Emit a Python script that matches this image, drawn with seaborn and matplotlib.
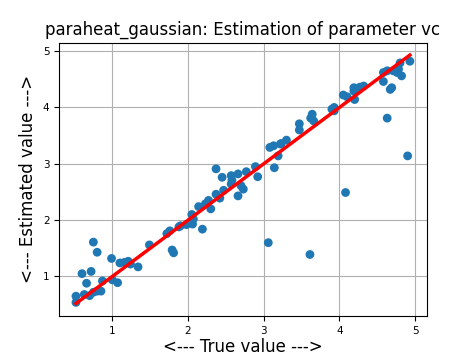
import matplotlib
matplotlib.use("Agg")
import matplotlib.pyplot as plt
import seaborn as sns
import numpy as np
import pandas as pd

true_vals = [0.52, 0.52, 0.60, 0.66, 0.72, 0.75, 0.80, 0.63, 0.70, 0.75, 0.80, 0.85,
             0.87, 0.99, 1.00, 1.07, 1.10, 1.16, 1.21, 1.24, 1.34, 1.49, 1.72, 1.76,
             1.79, 1.81, 1.90, 1.98, 1.88, 2.05, 2.07, 2.06, 2.19, 2.14, 2.23, 2.27,
             2.30, 2.37, 2.42, 2.47, 2.37, 2.45, 2.57, 2.58, 2.57, 2.66, 2.70, 2.73,
             2.66, 2.77, 2.89, 2.92, 3.08, 3.13, 3.14, 3.22, 3.19, 3.06, 3.61, 4.08,
             4.90, 4.63, 3.23, 3.30, 3.47, 3.47, 3.64, 3.62, 3.66, 3.90, 3.93, 3.93,
             4.05, 4.10, 4.19, 4.20, 4.27, 4.32, 4.19, 4.58, 4.63, 4.58, 4.67, 4.69,
             4.71, 4.78, 4.76, 4.80, 4.82, 4.93]
est_vals = [0.54, 0.65, 1.05, 0.88, 1.09, 1.61, 1.43, 0.68, 0.66, 0.72, 0.74, 0.74,
            0.92, 1.32, 0.94, 0.89, 1.24, 1.25, 1.27, 1.22, 1.17, 1.56, 1.76, 1.81,
            1.47, 1.42, 1.90, 1.92, 1.88, 2.10, 2.02, 1.93, 1.84, 2.24, 2.29, 2.35,
            2.20, 2.46, 2.39, 2.53, 2.91, 2.76, 2.79, 2.71, 2.64, 2.82, 2.61, 2.55,
            2.43, 2.86, 2.95, 2.77, 3.29, 3.32, 2.93, 3.35, 3.14, 1.60, 1.39, 2.49,
            3.14, 3.81, 3.36, 3.42, 3.71, 3.60, 3.88, 3.81, 3.76, 3.97, 4.00, 3.94,
            4.22, 4.19, 4.35, 4.14, 4.36, 4.38, 4.29, 4.62, 4.65, 4.46, 4.32, 4.35,
            4.65, 4.68, 4.62, 4.79, 4.56, 4.82]

line_x = [min(true_vals), max(true_vals)]
line_y = line_x

df = pd.DataFrame({"true": true_vals, "est": est_vals})
line_df = pd.DataFrame({"x": line_x, "y": line_y})

fig, ax = plt.subplots(figsize=(4.74, 3.55), dpi=100)
ax.set_axisbelow(True)
ax.grid(True, color="#b0b0b0", linewidth=0.8)
sns.scatterplot(data=df, x="true", y="est", ax=ax, color="#1f77b4", s=40,
                edgecolor="none", linewidth=0)
sns.lineplot(data=line_df, x="x", y="y", ax=ax, color="red", linewidth=2.5)
ax.set_title("paraheat_gaussian: Estimation of parameter vc", fontsize=12)
ax.set_xlabel("<--- True value --->", fontsize=12, labelpad=2)
ax.set_ylabel("<--- Estimated value --->", fontsize=12)
ax.set_xticks([1, 2, 3, 4, 5])
ax.set_yticks([1, 2, 3, 4, 5])
ax.tick_params(labelsize=7.5)
fig.savefig("out.png", dpi=100)
